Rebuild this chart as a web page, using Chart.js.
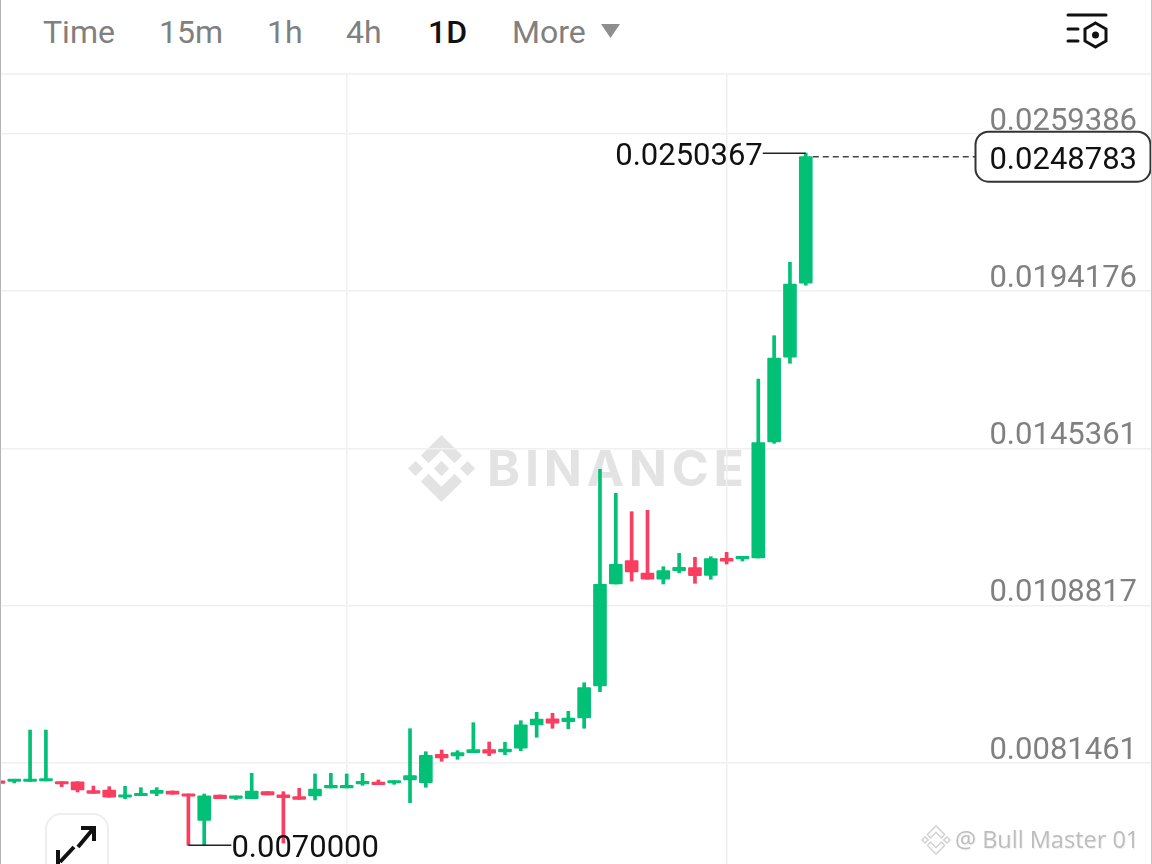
<!DOCTYPE html>
<html>
<head>
<meta charset="utf-8">
<title>1D chart</title>
<script src="https://cdn.jsdelivr.net/npm/chart.js@4"></script>
<style>
html,body{margin:0;padding:0;background:#fff;}
body{position:relative;width:1152px;height:864px;overflow:hidden;font-family:Roboto,sans-serif;}
.tab{position:absolute;top:12px;font-size:32px;line-height:40px;color:#808080;white-space:nowrap;}
.tab.on{color:#111;font-weight:500;}
#rule{position:absolute;left:0;top:73px;width:1152px;height:2px;background:#f3f3f3;}
#edgeL{position:absolute;left:0;top:0;width:1px;height:864px;background:#b4b4b4;}
#edgeR{position:absolute;right:0;top:0;width:1px;height:864px;background:#c4c4c4;}
#mark{position:absolute;left:487px;top:437px;font-family:Inter,sans-serif;font-size:50px;line-height:62px;font-weight:700;color:#e3e3e3;letter-spacing:4.8px;white-space:nowrap;}
#chartBox{position:absolute;left:0;top:75px;width:1152px;height:789px;}
#expand{position:absolute;left:45px;top:813px;width:60px;height:70px;border:2px solid #eeeeee;border-radius:16px;background:#fff;}
#author{position:absolute;left:955px;top:825px;font-family:"Open Sans",sans-serif;font-size:23.5px;line-height:28px;color:#bdbdbd;white-space:nowrap;text-shadow:1px 1px 1px #eee;}
svg{position:absolute;overflow:visible;}
</style>
</head>
<body>
<span class="tab" style="left:43px">Time</span>
<span class="tab" style="left:159px">15m</span>
<span class="tab" style="left:267px">1h</span>
<span class="tab" style="left:346px">4h</span>
<span class="tab on" style="left:428px">1D</span>
<span class="tab" style="left:512px">More</span>
<svg style="left:0;top:0" width="1152" height="75">
  <polygon points="601,24 620,24 610.5,38" fill="#8e8e8e"/>
  <g stroke="#111" stroke-width="3" fill="none" stroke-linecap="round">
    <line x1="1068" y1="15" x2="1106" y2="15"/>
    <line x1="1068" y1="29" x2="1078" y2="29"/>
    <line x1="1068" y1="41" x2="1078" y2="41"/>
    <polygon points="1095.5,23 1106,29 1106,41 1095.5,47 1085,41 1085,29"/>
  </g>
  <circle cx="1095.5" cy="35" r="3.5" fill="#111"/>
</svg>
<div id="rule"></div>
<svg style="left:408px;top:435px" width="67" height="67" viewBox="0 0 126.61 126.61" fill="#e3e3e3">
  <path d="m38.73 53.2 24.59-24.58 24.6 24.6 14.3-14.31-38.9-38.91-38.9 38.9z"/>
  <path d="m0 63.31 14.3-14.31 14.31 14.31-14.31 14.3z"/>
  <path d="m38.73 73.41 24.59 24.59 24.6-24.6 14.31 14.29-38.9 38.91-38.91-38.88-.02-.02z"/>
  <path d="m98.28 63.31 14.3-14.31 14.31 14.3-14.31 14.32z"/>
  <path d="m77.83 63.3-14.51-14.52-10.73 10.73-1.24 1.23-2.54 2.54 14.51 14.5 14.51-14.47z"/>
</svg>
<div id="mark">BINANCE</div>
<div id="chartBox"><canvas id="chart" width="1152" height="789"></canvas></div>
<div id="expand"></div>
<svg style="left:0;top:0" width="1152" height="864">
  <g stroke="#111" stroke-width="4" fill="none">
    <path d="M78 847 L93 829 M81 828 H94 V841"/>
    <path d="M74 847 L60 862 M58 850 V864"/>
  </g>
</svg>
<svg style="left:922px;top:826px" width="28" height="28" viewBox="0 0 126.61 126.61" fill="none" stroke="#cfcfcf" stroke-width="6">
  <path d="m38.73 53.2 24.59-24.58 24.6 24.6 14.3-14.31-38.9-38.91-38.9 38.9z"/>
  <path d="m0 63.31 14.3-14.31 14.31 14.31-14.31 14.3z"/>
  <path d="m38.73 73.41 24.59 24.59 24.6-24.6 14.31 14.29-38.9 38.91-38.91-38.88-.02-.02z"/>
  <path d="m98.28 63.31 14.3-14.31 14.31 14.3-14.31 14.32z"/>
</svg>
<div id="author">@ Bull Master 01</div>
<div id="edgeL"></div>
<div id="edgeR"></div>

<script>
// ===== Data =====
const opens = [0.007881,0.007873,0.007873,0.007881,0.007870,0.007870,0.007741,0.007751,0.007648,0.007670,0.007704,0.007737,0.007694,0.007330,0.007680,0.007633,0.007628,0.007727,0.007684,0.007656,0.007666,0.007780,0.007780,0.007837,0.007866,0.007852,0.007895,0.007856,0.008278,0.008252,0.008302,0.008348,0.008313,0.008370,0.008737,0.008838,0.008790,0.008850,0.009387,0.011327,0.011823,0.011558,0.011425,0.011607,0.011672,0.011509,0.011875,0.011860,0.011882,0.014711,0.017194,0.019704];
const closes = [0.007847,0.007902,0.007910,0.007914,0.007837,0.007751,0.007704,0.007648,0.007684,0.007704,0.007747,0.007690,0.007662,0.007670,0.007628,0.007666,0.007737,0.007680,0.007642,0.007619,0.007765,0.007818,0.007818,0.007876,0.007827,0.007885,0.007958,0.008262,0.008221,0.008302,0.008348,0.008293,0.008359,0.008741,0.008834,0.008764,0.008850,0.009358,0.011320,0.011745,0.011580,0.011425,0.011607,0.011680,0.011501,0.011867,0.011810,0.011919,0.014692,0.017172,0.019679,0.0248783];
const highs = [0.007881,0.007902,0.008656,0.008656,0.007870,0.007870,0.007808,0.007798,0.007804,0.007784,0.007784,0.007737,0.007694,0.007694,0.007680,0.007666,0.007993,0.007727,0.007727,0.007775,0.007983,0.007993,0.007983,0.007993,0.007895,0.007885,0.008677,0.008317,0.008344,0.008333,0.008774,0.008467,0.008463,0.008806,0.008943,0.008927,0.008960,0.009444,0.013990,0.013385,0.012939,0.012973,0.011693,0.011985,0.011897,0.011910,0.012007,0.011919,0.016521,0.017892,0.020481,0.0250367];
const lows = [0.007847,0.007852,0.007873,0.007881,0.007798,0.007723,0.007704,0.007648,0.007628,0.007670,0.007670,0.007690,0.0070000,0.0070000,0.007628,0.007617,0.007628,0.007680,0.007030,0.007619,0.007610,0.007780,0.007780,0.007818,0.007827,0.007833,0.007572,0.007790,0.008172,0.008202,0.008302,0.008256,0.008272,0.008333,0.008541,0.008684,0.008677,0.008684,0.009289,0.011326,0.011389,0.011425,0.011326,0.011565,0.011341,0.011425,0.011751,0.011816,0.011882,0.014676,0.017005,0.019632];
const priceTicks = [0.0259386,0.0194176,0.0145361,0.0108817,0.0081461];
const timeTicks = [22,46];
const highLabel = 0.0250367;
const lowLabel = 0.0070000;
const lastPrice = 0.0248783;

const GREEN = '#02c076';
const RED = '#fb3d60';
const candleColors = opens.map((o,i)=>closes[i]>=o ? GREEN : RED);

// ===== Labels drawn on top of the candles =====
const priceLabels = {
    id:'priceLabels',
    afterDatasetsDraw(chart){
        const {ctx, scales:{x,y}} = chart;
        ctx.save();
        ctx.font = '400 31px Roboto, sans-serif';
        ctx.textBaseline = 'middle';

        // last price line + box
        const lastI = opens.length-1;
        const ly = y.getPixelForValue(lastPrice);
        ctx.strokeStyle = '#444';
        ctx.lineWidth = 1.5;
        ctx.setLineDash([6,4]);
        ctx.beginPath();
        ctx.moveTo(x.getPixelForValue(lastI)+7, ly);
        ctx.lineTo(975, ly);
        ctx.stroke();
        ctx.setLineDash([]);
        ctx.fillStyle = '#fff';
        ctx.strokeStyle = '#333';
        ctx.lineWidth = 2;
        ctx.beginPath();
        ctx.roundRect(975.5, ly-25, 175, 50, 13);
        ctx.fill();
        ctx.stroke();
        ctx.fillStyle = '#111';
        ctx.textAlign = 'right';
        ctx.fillText(lastPrice.toFixed(7), 1137, ly+5);

        // high marker
        const hx = x.getPixelForValue(lastI);
        const hy = y.getPixelForValue(highLabel);
        ctx.strokeStyle = '#222';
        ctx.lineWidth = 1.5;
        ctx.beginPath();
        ctx.moveTo(hx-43, hy);
        ctx.lineTo(hx, hy);
        ctx.stroke();
        ctx.fillText(highLabel.toFixed(7), hx-43, hy+4);

        // low marker
        const lowI = lows.indexOf(lowLabel);
        const lx = x.getPixelForValue(lowI);
        const lo = y.getPixelForValue(lowLabel);
        ctx.beginPath();
        ctx.moveTo(lx, lo);
        ctx.lineTo(lx+43, lo);
        ctx.stroke();
        ctx.textAlign = 'left';
        ctx.fillText(lowLabel.toFixed(7), lx+43, lo+4);
        ctx.restore();
    }
};

// ===== Chart =====
new Chart(document.getElementById('chart'),{
    type:'bar',
    data:{
        datasets:[
            {
                label:'wick',
                data:opens.map((o,i)=>({x:i,y:[lows[i],highs[i]]})),
                backgroundColor:candleColors,
                barThickness:3,
                grouped:false
            },
            {
                label:'body',
                data:opens.map((o,i)=>({x:i,y:[o,closes[i]]})),
                backgroundColor:candleColors,
                barThickness:13,
                minBarLength:2.5,
                borderRadius:1,
                borderSkipped:false,
                grouped:false
            }
        ]
    },
    options:{
        responsive:false,
        animation:false,
        layout:{padding:0},
        plugins:{legend:{display:false},tooltip:{enabled:false}},
        scales:{
            x:{
                type:'linear',
                offset:false,
                min:0.1,
                max:72.87,
                afterBuildTicks(axis){ axis.ticks = timeTicks.map(v=>({value:v})); },
                ticks:{display:false},
                grid:{offset:false,color:'#f0f0f0',lineWidth:1.5,drawTicks:false},
                border:{display:false}
            },
            y:{
                type:'logarithmic',
                position:'right',
                bounds:'data',
                min:0.0067637,
                max:0.028914,
                afterBuildTicks(axis){ axis.ticks = priceTicks.map(v=>({value:v})); },
                // labels sit inside the plot, so the axis keeps no room of its own
                afterFit(axis){ axis.paddingTop = 0; axis.paddingBottom = 0; axis.width = 0; },
                ticks:{
                    mirror:true,
                    padding:-15,
                    labelOffset:-12,
                    color:'#808080',
                    font:{family:'Roboto, sans-serif',size:31,weight:'400'},
                    autoSkip:false,
                    callback:v=>Number(v).toFixed(7)
                },
                grid:{color:'#f0f0f0',lineWidth:1.5,drawTicks:false},
                border:{display:false}
            }
        }
    },
    plugins:[priceLabels]
});
</script>
</body>
</html>
